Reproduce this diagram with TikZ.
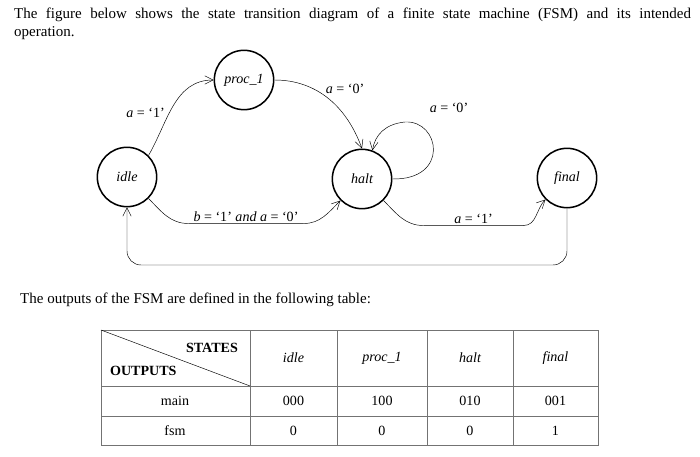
\documentclass[tikz,border=0pt]{standalone}
\usepackage{fontspec}
\setmainfont{Liberation Serif}
\usetikzlibrary{positioning, arrows.meta}

\begin{document}
\begin{tikzpicture}[
        x=0.03cm, y=-0.03cm,
        every node/.style={font=\fontsize{12.8}{15}\selectfont},
        state/.style={circle, draw, line width=1.3pt, minimum size=1.78cm, inner sep=0pt, font=\fontsize{12}{14}\selectfont\itshape},
        edge/.style={-{Straight Barb[length=2.5mm, width=2.5mm]}, thin},
        cond/.style={font=\fontsize{12}{14}\selectfont, inner sep=1pt},
        grid/.style={draw=black!55, thin}
    ]
        \useasboundingbox (0,0) rectangle (700,457);
        % Intro text
        \node[anchor=north west, text width=20.3cm, align=justify, inner sep=0pt] (intro) at (14,8)
            {The figure below shows the state transition diagram of a finite state machine (FSM) and its intended\linebreak operation.};
        % States
        \node[state] (idle) at (127,177) {idle};
        \node[state] (proc) at (244,80) {proc\_1};
        \node[state] (halt) at (362,179) {halt};
        \node[state] (final) at (567,178) {final};
        \coordinate (looptop) at (405,122);
        \coordinate (turnR) at (573,265);
        \coordinate (turnL) at (127,265);
        % Transitions
        \draw[edge] (idle.north east) to[out=60, in=180] node[cond, pos=0.35, above left] {\textit{a} = ‘1’} (proc.west);
        \draw[edge] (proc.east) to[out=0, in=110] node[cond, pos=0.45, above right] {\textit{a} = ‘0’} (halt.north);
        \draw[edge] (halt.east) .. controls (450,180) and (440,120) .. (looptop) .. controls (385,124) and (375,135) .. (halt.70);
        \node[cond] (loop) at (449,108) {\textit{a} = ‘0’};
        \draw[edge] (idle.south east) to[out=-45, in=180] ++(40,25) -- node[cond, above] {\textit{b} = ‘1’ \textit{and a} = ‘0’} ++(115,0) to[out=0, in=-135] (halt.south west);
        \draw[edge] (halt.south east) to[out=-45, in=180] ++(40,25) -- node[cond, above] {\textit{a} = ‘1’} ++(100,0) to[out=0, in=-135] (final.south west);
        \draw[edge, rounded corners=12pt] (final.south) -- (final.south |- turnR) -- (turnL) -- (idle.south);
        % Table
        \node[anchor=west, inner sep=0pt] (outtxt) at (20,300) {The outputs of the FSM are defined in the following table:};
        \draw[grid] (101,330) rectangle (598,445);
        \foreach \xc in {250,337,427,513} \draw[grid] (\xc,330) -- (\xc,445);
        \foreach \yc in {386,416} \draw[grid] (101,\yc) -- (598,\yc);
        \draw[thin] (101,330) -- (250,386);
        \node[font=\fontsize{12}{14}\selectfont\bfseries, anchor=east] (st) at (242,348) {STATES};
        \node[font=\fontsize{12}{14}\selectfont\bfseries, anchor=west] (ou) at (106,371) {OUTPUTS};
        \foreach \xc/\nm in {293.5/idle, 382/proc\_1, 470/halt, 555.5/final}
            \node[font=\fontsize{12}{14}\selectfont\itshape] at (\xc,358) {\nm};
        \foreach \xc/\va/\vb in {293.5/000/0, 382/100/0, 470/010/0, 555.5/001/1} {
            \node[font=\fontsize{12}{14}\selectfont] at (\xc,401) {\va};
            \node[font=\fontsize{12}{14}\selectfont] at (\xc,431) {\vb};
        }
        \node[font=\fontsize{12}{14}\selectfont] (rmain) at (175,401) {main};
        \node[font=\fontsize{12}{14}\selectfont] (rfsm) at (175,431) {fsm};
    \end{tikzpicture}
\end{document}
